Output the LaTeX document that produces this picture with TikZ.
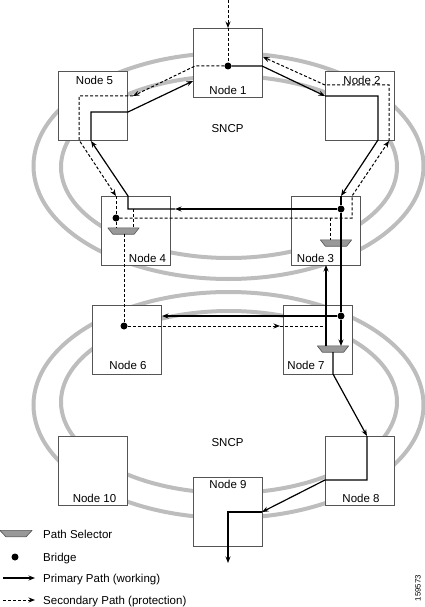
\documentclass[tikz,border=0pt]{standalone}
\usepackage{fontspec}
\setmainfont{Liberation Sans}
\usetikzlibrary{arrows.meta}
\definecolor{ringc}{HTML}{BDBDBD}
\definecolor{boxline}{HTML}{555555}
\definecolor{selfill}{HTML}{999999}
\tikzset{
 ringline/.style={draw=ringc,line width=4pt},
 nbox/.style={draw=boxline,fill=white,line width=0.9pt,minimum width=69pt,minimum height=69pt,inner sep=0pt},
 lbl/.style={font=\fontsize{11.5}{13}\selectfont,inner sep=0pt,text height=8.2pt,text depth=0pt},
 pri/.style={draw=black,line width=1.2pt},
 sec/.style={draw=black,line width=1pt,dash pattern=on 3pt off 2pt},
 tip/.style={-{Stealth[length=6.5pt,width=5pt]}},
 bridge/.style={circle,fill=black,minimum size=7pt,inner sep=0pt},
 selector/.style={rectangle,minimum width=31pt,minimum height=6pt,inner sep=0pt},
 selshape/.style={draw=boxline,fill=selfill,line width=0.6pt,line join=round},
}
\begin{document}
\begin{tikzpicture}[x=1pt,y=-1pt]
\useasboundingbox (0,0) rectangle (425,607);
% rings
\draw[ringline] (228.5,166) ellipse [x radius=195pt,y radius=113pt];
\draw[ringline] (229,167) ellipse [x radius=168pt,y radius=91pt];
\draw[ringline] (228.5,405) ellipse [x radius=195pt,y radius=113pt];
\draw[ringline] (229,402) ellipse [x radius=168pt,y radius=91pt];
% boxes
\node[nbox] (n1) at (227.5,62.5) {};
\node[nbox] (n5) at (93,105.5) {};
\node[nbox] (n2) at (360,105.5) {};
\node[nbox] (n4) at (136,230.5) {};
\node[nbox] (n3) at (325.5,230.5) {};
\node[nbox] (n6) at (127,339.5) {};
\node[nbox] (n7) at (318,339.5) {};
\node[nbox] (n10) at (93,471) {};
\node[nbox] (n8) at (360,471) {};
\node[nbox] (n9) at (227.5,511.5) {};
% labels
\node[lbl] (l1) at (228,90) {Node 1};
\node[lbl] (l5) at (94.5,80) {Node 5};
\node[lbl] (l2) at (362,80) {Node 2};
\node[lbl] (l4) at (147.5,258) {Node 4};
\node[lbl] (l3) at (315.5,258) {Node 3};
\node[lbl] (l6) at (128,365) {Node 6};
\node[lbl] (l7) at (306,365) {Node 7};
\node[lbl] (l10) at (94.5,498) {Node 10};
\node[lbl] (l8) at (361,498) {Node 8};
\node[lbl] (l9) at (228,484) {Node 9};
\node[lbl] (sncpA) at (227.5,128) {SNCP};
\node[lbl] (sncpB) at (227.5,442) {SNCP};
% bridges and selectors
\node[bridge] (b1) at (228,66) {};
\node[bridge] (b4) at (116,218) {};
\node[bridge] (b3) at (341,209) {};
\node[bridge] (b7) at (341,316) {};
\node[bridge] (b6) at (124,326) {};
\node[selector] (s4) at (123.5,231) {};
\node[selector] (s3) at (336,243) {};
\node[selector] (s7) at (333,349) {};
\draw[selshape] (s4.north west) -- (s4.north east) -- ([xshift=-5pt]s4.south east) -- ([xshift=5pt]s4.south west) -- cycle;
\draw[selshape] (s3.north west) -- (s3.north east) -- ([xshift=-5pt]s3.south east) -- ([xshift=5pt]s3.south west) -- cycle;
\draw[selshape] (s7.north west) -- (s7.north east) -- ([xshift=-5pt]s7.south east) -- ([xshift=5pt]s7.south west) -- cycle;
% named points
\coordinate (din) at (228,0);
\coordinate (n1top) at (228,28);
\coordinate (d1a) at (195,66);
\coordinate (d5in) at (133,96);
\coordinate (d5a) at (79,96);
\coordinate (d5b) at (79,140);
\coordinate (d4in) at (116,196);
\coordinate (s4inA) at (116,228);
\coordinate (d4b) at (133,209);
\coordinate (s4inB) at (133,228);
\coordinate (s4out) at (124,234);
\coordinate (d3a) at (352,218);
\coordinate (d3b) at (352,196);
\coordinate (d2in) at (389,141);
\coordinate (d2a) at (389,85);
\coordinate (d2b) at (325,85);
\coordinate (d1in) at (263,57);
\coordinate (d3c) at (330,218);
\coordinate (s3in) at (330,240);
\coordinate (d7in) at (280,326);
\coordinate (d7a) at (325,326);
\coordinate (p1a) at (262,66);
\coordinate (p2in) at (325,96);
\coordinate (p2a) at (378,96);
\coordinate (p2b) at (378,140);
\coordinate (p3in) at (341,196);
\coordinate (p4in) at (175,209);
\coordinate (p4a) at (128,209);
\coordinate (p4b) at (128,196);
\coordinate (p5in) at (91,141);
\coordinate (p5a) at (91,112);
\coordinate (p5b) at (128,112);
\coordinate (p1in) at (193,81);
\coordinate (s7in) at (341,346);
\coordinate (p6in) at (162,316);
\coordinate (s7outA) at (326,346);
\coordinate (p3bot) at (326,265);
\coordinate (s7outB) at (333,352);
\coordinate (p7bot) at (333,374);
\coordinate (p8in) at (367,436);
\coordinate (p8a) at (367,480);
\coordinate (p8b) at (325,480);
\coordinate (p9in) at (262,512);
\coordinate (p9a) at (228,512);
\coordinate (pout) at (228,563);
% secondary paths
\draw[sec,tip] (din) -- (n1top);
\draw[sec] (n1top) -- (b1);
\draw[sec,tip] (b1) -- (d1a) -- (d5in);
\draw[sec,tip] (d5in) -- (d5a) -- (d5b) -- (d4in);
\draw[sec] (d4in) -- (b4);
\draw[sec] (b4) -- (s4inA);
\draw[sec] (d4b) -- (s4inB);
\draw[sec,tip] (b4) -- (d3a) -- (d3b) -- (d2in);
\draw[sec,tip] (d2in) -- (d2a) -- (d2b) -- (d1in);
\draw[sec] (d3c) -- (s3in);
\draw[sec] (s4out) -- (b6);
\draw[sec,tip] (b6) -- (d7in);
\draw[sec] (d7in) -- (d7a);
% primary paths
\draw[pri,tip] (b1) -- (p1a) -- (p2in);
\draw[pri,tip] (p2in) -- (p2a) -- (p2b) -- (p3in);
\draw[pri] (p3in) -- (b3);
\draw[pri,tip] (b3) -- (p4in);
\draw[pri,tip] (p4in) -- (p4a) -- (p4b) -- (p5in);
\draw[pri,tip] (p5in) -- (p5a) -- (p5b) -- (p1in);
\draw[pri] (b3) -- (b7);
\draw[pri,tip] (b7) -- (s7in);
\draw[pri,tip] (b7) -- (p6in);
\draw[pri,tip] (s7outA) -- (p3bot);
\draw[pri,tip] (s7outB) -- (p7bot) -- (p8in);
\draw[pri,tip] (p8in) -- (p8a) -- (p8b) -- (p9in);
\draw[pri,tip] (p9in) -- (p9a) -- (pout);
% legend
\node[selector,minimum width=32pt] (lsel) at (16,533.5) {};
\draw[selshape] (lsel.north west) -- (lsel.north east) -- ([xshift=-6pt]lsel.south east) -- ([xshift=6pt]lsel.south west) -- cycle;
\node[lbl,anchor=west] (tsel) at (43,534) {Path Selector};
\node[bridge] (lbr) at (15,557) {};
\node[lbl,anchor=west] (tbr) at (43,557) {Bridge};
\coordinate (lp1) at (3,578);
\coordinate (lp2) at (35,578);
\draw[pri,tip] (lp1) -- (lp2);
\node[lbl,anchor=west] (tpri) at (43,578) {Primary Path (working)};
\coordinate (ls1) at (3,600);
\coordinate (ls2) at (35,600);
\draw[sec,tip] (ls1) -- (ls2);
\node[lbl,anchor=west] (tsec) at (43,600) {Secondary Path (protection)};
\node[font=\fontsize{7.8}{9}\selectfont,rotate=90,inner sep=0pt] (fig) at (418,588) {159573};
\end{tikzpicture}
\end{document}
